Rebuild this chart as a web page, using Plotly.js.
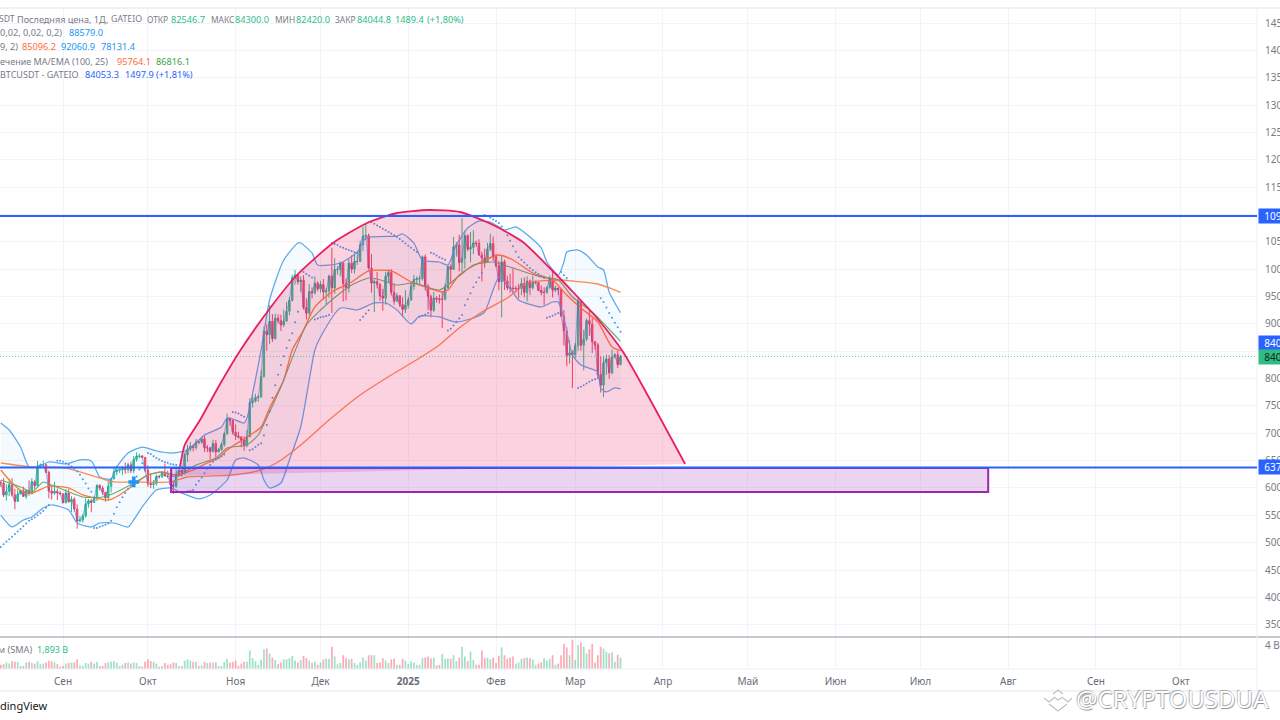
<!DOCTYPE html>
<html><head><meta charset="utf-8">
<script src="https://cdn.plot.ly/plotly-3.0.1.min.js"></script>
<style>html,body{margin:0;padding:0;background:#fff;overflow:hidden;width:1280px;height:720px}#c{width:1340px;height:720px}</style>
</head><body><div id="c"></div>
<script>
// Candles: daily, first bar 2024-08-10 (day -22 from 2024-09-01), last bar 2025-03-17
const closes=[60900,58700,59350,60600,58750,57550,58900,59500,58450,59500,59000,61150,60400,64050,64200,64250,62850,59450,59050,59400,59100,58950,
57300,59100,57450,57950,56150,53950,54150,54850,57050,57650,57350,58100,60500,60000,59200,58200,60300,61650,62950,63200,63350,63550,63350,64250,63150,65200,65800,65850,65600,63300,
60800,60650,60750,62100,62050,62800,62200,62150,60600,60300,62450,63200,62850,66050,67050,67600,67400,68400,68350,69000,67350,67350,66650,68150,66600,67000,67950,69900,72700,72350,70200,
69500,69300,68750,67800,69350,75600,75900,76500,76650,80400,88700,88000,90500,87300,91050,90600,89800,90500,92300,94300,98400,98950,97700,98000,93000,91950,95900,95650,97450,96400,
97200,95850,96000,98750,96600,99900,99900,101150,97400,96600,101100,100000,101400,101400,104450,106050,106150,100200,97450,97750,97250,95100,94700,98700,99400,95800,94150,95150,93550,92650,93400,
94400,96900,98100,98200,98300,102250,96900,95050,92500,94700,94550,94500,94500,96550,100500,99950,104100,104450,101200,102000,106150,103650,103950,104800,104700,102600,102050,101300,103700,104700,102400,
100650,97700,101350,97850,96600,96550,96450,96450,96450,97400,95750,97850,96600,97500,97550,96100,95750,95750,96650,98300,96150,96550,96250,91450,88700,84250,84700,84350,
86000,94250,86100,87200,90600,89950,86750,86150,80700,78800,82900,83600,81050,83950,84350,82546.7,84044.8];
const highs=[61400,61800,60700,61700,61800,59850,59800,59650,60250,59600,61400,61800,61400,64950,64500,65000,64450,63200,60200,61150,59900,59450,
58900,59800,59800,58500,58300,57000,54850,55250,58100,58000,58000,58550,60650,60650,60400,59200,61300,61800,63850,64100,63550,64000,64700,64650,64800,65850,66500,66250,66050,65550,
64150,62400,61450,62450,62400,63000,64450,63200,62550,61300,63400,63500,63300,66450,67900,68400,67900,68950,68650,69400,69500,67850,67450,68800,68750,67300,68350,70250,73600,72950,72650,
71600,70300,69500,69450,70600,76400,76950,77200,76950,81500,89550,89950,93450,91800,91850,91750,91700,92600,94000,94900,99000,99850,98750,98650,98900,94700,97300,96650,98700,97800,
97850,98200,96600,99000,103900,102000,100500,101400,101200,98300,101900,102500,102650,102700,105200,107800,108300,106500,102800,98150,99500,97400,96400,99450,99950,100000,97400,95650,95200,94900,96150,
94900,97750,98950,98700,98800,102500,102700,97250,95350,95800,95050,95350,95900,97350,100700,100850,105900,104950,106300,109350,107100,106350,106800,107100,105250,105450,103200,103750,104800,106450,106000,
102800,101500,102500,101750,98800,99200,100150,96950,97300,98350,98500,98700,98100,98800,97950,97750,97000,96700,96900,98800,99500,96950,96650,96500,92500,89400,87000,85100,
86500,95000,94400,88900,91000,92800,91000,86850,86500,84100,84000,84350,84300,85300,84650,85050,84300];
const lows=[60250,58350,57700,58500,58450,56100,57700,58800,58400,58000,58600,58800,59800,60350,63600,63800,62800,58100,57900,58750,57800,58750,
57200,57200,57450,55600,55650,52550,53750,53650,54600,56400,55550,57300,57600,59500,58700,57500,57650,59200,61600,62350,62750,62400,62600,62700,62700,62700,64800,65450,65450,62900,
60200,59950,59850,60450,61700,61800,62150,61850,60300,58900,60050,62450,62050,62450,64800,66700,66700,67000,68000,68100,66600,66550,65250,66550,65600,66600,66850,67550,69700,71400,69700,
68800,69050,67450,66800,67450,69750,74700,75600,75750,76500,80200,85100,86300,86700,87150,90100,88700,89400,90900,91550,94100,97200,97200,95800,92600,90800,91500,94650,95400,96000,
95700,94400,93600,94700,92000,95500,99000,98700,94100,94300,95700,99300,99200,100800,101300,103300,105350,100000,95700,92150,96500,94200,92400,93500,97600,95200,93500,94000,93050,91300,92000,
92800,94200,96200,97250,97300,97900,96100,92500,91200,92200,93850,93700,89250,94300,96500,97300,99950,102300,99600,99500,100100,103300,101250,102750,104100,102500,97750,100250,101300,103300,101550,
100300,96150,91200,96200,96150,95700,95650,95700,94700,95250,94850,94100,95250,96250,97250,96050,95200,93400,95500,96400,94850,95800,95250,91200,86050,82250,82750,78250,
83700,85100,85100,81500,86850,87800,84700,85300,80000,77450,76600,80650,79950,80800,83650,81950,82420];
const opens=[61000].concat(closes.slice(0,-1));
const volumes=[0.7,0.8,1.1,0.9,1.3,1.2,1.2,0.5,0.5,1.1,1.2,1.0,0.9,1.3,0.8,0.9,1.1,1.4,1.3,1.1,0.8,0.4,
0.5,0.9,1.0,1.1,1.1,1.6,0.6,0.5,1.0,0.9,1.2,0.9,1.2,0.5,0.5,1.0,1.1,1.2,1.3,1.1,0.5,0.7,1.0,1.1,0.9,1.1,1.0,0.5,0.4,1.2,
1.6,1.3,1.2,0.9,0.4,0.5,1.0,0.7,0.8,1.1,1.0,0.5,0.5,1.4,1.6,1.4,1.2,1.2,0.5,0.6,1.2,1.0,1.1,1.1,1.1,0.5,0.5,1.2,1.7,1.1,1.2,
1.4,0.5,0.9,1.2,1.2,3.1,1.8,1.3,0.7,1.6,3.3,3.4,2.6,1.9,1.5,0.8,1.1,1.6,1.6,1.8,2.2,1.4,1.1,1.5,2.2,1.8,1.4,1.0,1.2,0.7,
1.1,1.6,1.7,1.7,3.7,2.1,0.8,1.0,2.3,1.8,1.6,1.7,1.0,0.7,1.1,1.9,1.4,2.3,2.3,2.3,1.0,1.1,1.8,1.4,1.0,1.6,1.7,0.7,0.7,1.7,1.4,
0.8,1.3,1.1,0.7,0.7,1.8,1.9,2.1,1.8,1.9,0.6,0.7,2.5,1.7,1.8,1.7,2.3,1.3,1.9,3.7,2.1,1.3,2.9,1.5,0.7,0.7,3.1,1.8,1.9,1.6,1.9,
1.0,2.2,3.6,2.3,1.7,1.9,2.1,0.9,1.1,1.7,1.8,1.9,1.8,1.6,0.7,0.9,1.1,1.8,1.4,1.7,2.3,0.7,0.9,2.3,4.2,3.6,2.3,4.9,
1.5,4.0,4.4,3.7,2.6,3.3,4.2,1.1,2.3,3.7,3.4,2.9,2.6,2.8,1.2,2.4,1.893];

// Indicators (day offsets from 2024-09-01)
const upperDays=[-22,-19,-15,-12,-9,-5,1,6,10,13,17,19,23,28,33,39,44,50,56,58,60,64,65,70,73,78,83,84,88,90,98,104,107,118,120,124,127,133,136,139,143,147,151,156,160,165,169,171,175,177,178,182,185,189,191,193,197];
const upperVals=[71880,70600,67490,63840,63840,64750,64390,65120,64930,62010,61640,63840,66400,67490,66760,66400,66940,69690,71150,72790,72610,71880,72790,85220,94360,101680,104780,104780,102960,100760,101130,103140,105700,106060,106430,104780,101680,101310,100760,104420,107530,108810,108620,107160,107710,105880,103870,101310,98930,101310,103140,103500,102590,100400,99850,95830,92060.9];
const lowerDays=[-22,-18,-14,-11,-7,-4,2,5,10,13,18,23,25,28,33,38,42,48,52,58,61,64,69,71,73,77,80,84,89,91,98,104,110,114,118,123,126,130,133,139,146,149,154,158,161,169,173,175,177,180,183,189,190,192,195,197];
const lowerVals=[55060,52870,54150,54700,56340,56890,55980,53600,52870,53600,53600,52870,54150,56530,59630,60000,59080,57990,58720,61460,65120,65480,64200,61460,60000,60910,65120,71150,85220,87600,92900,92540,93820,93820,92540,89980,91440,91440,91260,90340,91260,92170,98390,96560,94360,93090,94000,94000,91070,84310,82480,81200,78280,77550,78280,78131.4];
const basisDays=[-22,-18,-14,-11,-6,-4,2,7,16,20,25,30,35,40,46,51,55,58,65,70,73,78,81,85,89,95,102,108,116,123,129,134,136,140,147,154,159,166,173,178,183,189,194,197];
const basisVals=[63290,60910,59270,59080,60180,60360,60000,58720,57800,58720,60550,62370,62920,62370,63290,64570,65480,66940,69320,71150,74620,79740,85220,88880,93090,95830,97650,99670,99670,97650,96560,95830,96190,98930,101130,102590,101680,99300,98020,95280,92900,90340,85770,85096.2];
const ma100Days=[-22,-11,1,13,18,25,38,44,60,70,76,84,94,105,116,126,133,140,148,157,164,176,180,189,197];
const ma100Vals=[64570,63840,63650,61830,61100,61100,61100,62010,62370,63290,64750,67860,72430,77000,80650,83760,86140,89250,92170,94730,97470,98020,97840,97290,95764.1];
const emaDays=[-22,-15,-11,-7,-4,7,14,19,25,30,35,40,47,54,58,65,69,72,77,86,91,98,102,108,111,118,124,133,140,145,152,159,169,175,180,187,197];
const emaVals=[61460,60180,59270,61100,60550,58350,58350,59270,60910,62370,62920,62010,64200,65480,67310,67860,69690,72790,78460,89790,92540,95640,97110,98390,98200,97110,97470,96190,98750,100760,101310,100210,98570,98020,94910,92170,86816.1];
const sarDays=[-22,-21,-20,-19,-18,-17,-16,-15,-14,-13,-12,-11,-10,-9,-8,-7,-6,-5,-2,-1,0,1,2,3,4,5,6,7,8,9,10,
11,12,13,14,15,16,17,18,19,20,21,22,23,24,25,26,27,28,30,31,32,33,34,35,36,37,38,39,40,
42,43,44,45,46,47,48,49,50,51,52,53,54,55,56,57,60,61,62,63,64,
66,67,68,69,70,71,72,73,74,75,76,77,78,79,80,81,82,83,85,86,87,88,89,90,91,92,93,94,
95,96,97,98,99,100,101,102,103,104,105,106,107,108,109,110,111,112,113,114,115,116,117,118,119,120,121,122,123,124,125,
126,127,128,129,130,131,132,133,134,135,136,137,138,139,140,141,142,143,144,145,146,147,148,
149,150,151,152,153,154,155,156,157,158,159,160,161,162,163,164,165,166,167,168,169,170,171,172,173,174,175,176,177,178,
182,183,184,185,186,187,188,189,190,191,192,193,194,195,196,197];
const sarVals=[49200,49700,50200,50650,51100,51600,52050,52500,53000,53500,54000,54300,54600,55000,55400,55800,56400,56900,65000,65000,64800,64500,64300,63950,63550,63000,62400,61600,60800,59900,59300,
52690,52700,52900,53100,53300,53500,54000,55300,56500,57400,58300,59100,59800,60400,60900,62100,63400,64500,66400,66200,65800,65500,65200,64950,64700,64600,64400,64300,64200,
59100,59250,59400,59500,59650,60600,61300,61900,62700,63500,64200,64800,65200,65500,65800,66100,73900,73800,73600,73300,73000,
66900,67100,67500,67900,68200,69600,71500,74000,76500,78800,80700,82500,84100,85600,87000,88300,90300,92200,99500,99100,98800,98500,90800,91000,91200,91300,91450,91600,
104800,104600,104400,104100,103900,103700,103500,103300,103100,102950,90700,91300,91900,92500,108600,108300,108000,107700,107400,107100,106800,106500,106200,105900,105500,105100,104700,104300,103900,103500,103150,
91300,91500,91700,92000,103000,102800,102500,102200,101950,101700,88800,89100,89700,90400,91000,91600,93400,94500,95600,96700,97600,98500,99300,
109900,109700,109400,109100,108800,108450,107800,107000,106200,105200,104200,103200,102200,101700,101200,100700,100200,99800,99450,99100,98750,98400,91100,91300,91500,91750,92000,99480,98900,98400,
78300,78500,78800,79100,79400,79700,79900,80100,94700,94000,93000,92000,91100,90200,89400,88579];
const plusDay=[25], plusVal=[61100];

// Drawings
const arcDates=['2024-10-09 12:00','2024-10-12 08:00','2024-10-14','2024-10-19 10:00','2024-10-26 12:00','2024-11-02 12:00','2024-11-14','2024-11-22 16:00','2024-12-05 10:00','2024-12-17 10:00','2024-12-28','2025-01-08','2025-01-19 08:00','2025-01-31','2025-02-10 12:00','2025-02-20','2025-02-28 05:00','2025-03-08 16:00','2025-03-17 22:00','2025-03-28 12:00','2025-04-08 20:00'];
const arcVals=[62192,63840,67858,72428,79009,85042,93450,98934,104784,108440,110268,110816,110451,108074,104967,100214,95827,91074,84859,75170,64385];
const hLevels=[109720,63740];
const zoneDates=['2024-10-09 05:00','2025-07-24 22:00'];
const zoneVals=[59267,63654];
const lastPrice=84044.8;

// Axis labels
const priceTicks=[35000,40000,45000,50000,55000,60000,65000,70000,75000,80000,85000,90000,95000,100000,105000,110000,115000,120000,125000,130000,135000,140000,145000];
const hiddenPriceLabels=[85000,110000];
const monthTicks=['2024-09-01','2024-10-01','2024-11-01','2024-12-01','2025-01-01','2025-02-01','2025-03-01','2025-04-01','2025-05-01','2025-06-01','2025-07-01','2025-08-01','2025-09-01','2025-10-01'];
const monthLabels=['Сен','Окт','Ноя','Дек','<b>2025</b>','Фев','Мар','Апр','Май','Июн','Июл','Авг','Сен','Окт'];

const D0=Date.UTC(2024,8,1), DAY=86400000;
const toDate=d=>new Date(D0+d*DAY).toISOString().slice(0,19);
const candleDates=closes.map((_,i)=>toDate(i-22));
const W=1340,PW=1257,H=720;
const px=x=>x/PW, py=y=>1-y/H;
const FONT='"Noto Sans", Roboto, sans-serif';
const GRAY='#787b86',GRN='#2ebd85',RED='#f6465d',ORG='#ff6d3a',SKY='#2196f3',BLU='#2962ff';

const line=(days,vals,color,w)=>({type:'scatter',mode:'lines',x:days.map(toDate),y:vals,line:{color,width:w||1,shape:'spline',smoothing:0.6},hoverinfo:'skip',xaxis:'x',yaxis:'y'});
const traces=[
 {type:'candlestick',x:candleDates,open:opens,high:highs,low:lows,close:closes,whiskerwidth:0,
  increasing:{line:{color:GRN,width:1},fillcolor:GRN},decreasing:{line:{color:RED,width:1},fillcolor:RED},xaxis:'x',yaxis:'y',hoverinfo:'skip'},
 {type:'bar',x:candleDates,y:volumes,width:0.62*DAY,marker:{color:closes.map((c,i)=>c>=opens[i]?'rgba(46,189,133,.45)':'rgba(246,70,93,.45)')},xaxis:'x',yaxis:'y2',hoverinfo:'skip'},
 line(lowerDays,lowerVals,'#5aa9ec',1.25),
 Object.assign(line(upperDays,upperVals,'#5aa9ec',1.25),{fill:'tonexty',fillcolor:'rgba(33,150,243,.05)'}),
 line(ma100Days,ma100Vals,'#ff8a50',1.3),
 line(basisDays,basisVals,'#ff7a30',1.3),
 line(emaDays,emaVals,'#6fa86f',1.1),
 {type:'scatter',mode:'lines',x:candleDates,y:closes,line:{color:'rgba(41,98,255,.45)',width:1},xaxis:'x',yaxis:'y',hoverinfo:'skip'},
 {type:'scatter',mode:'markers',x:sarDays.map(toDate),y:sarVals,marker:{color:'#4a98ec',size:2},xaxis:'x',yaxis:'y',hoverinfo:'skip'},
 {type:'scatter',mode:'markers',x:plusDay.map(toDate),y:plusVal,marker:{color:SKY,symbol:'cross',size:9},xaxis:'x',yaxis:'y',hoverinfo:'skip'},
 {type:'scatter',mode:'lines',x:arcDates,y:arcVals,fill:'toself',fillcolor:'rgba(233,30,99,.2)',line:{width:0,shape:'spline',smoothing:0.6},xaxis:'x',yaxis:'y',hoverinfo:'skip'},
 {type:'scatter',mode:'lines',x:arcDates.slice(1),y:arcVals.slice(1),line:{color:'#e91e63',width:1.8,shape:'spline',smoothing:0.6},xaxis:'x',yaxis:'y',hoverinfo:'skip'}
];

const pathOf=pts=>pts.map((p,i)=>(i?'L':'M')+px(p[0]).toFixed(5)+','+py(p[1]).toFixed(5)).join(' ');
const chevrons=[[[1053,694],[1058,690],[1063,694]],[[1044,698],[1049,702],[1054,698]],[[1054,697],[1058,700],[1063,697]],[[1063,698],[1068,702],[1072,698]],[[1049,704],[1058,711],[1067,704]]];
const pLine=(x0,y0,x1,y1,color,w)=>({type:'line',xref:'paper',yref:'paper',x0:px(x0),x1:px(x1),y0:py(y0),y1:py(y1),line:{color,width:w||1}});
const shapes=[
 pLine(0,8,W,8,'#f0f1f4',2),
 pLine(0,637,W,637,'#b4b6bc',1.5),
 pLine(0,669,PW,669,'#eef0f4',1),
 pLine(0,691,W,691,'#eceef2',1.5),
 pLine(PW,9,PW,691,'#eef0f6',1),
 {type:'rect',xref:'x',yref:'y',x0:zoneDates[0],x1:zoneDates[1],y0:zoneVals[0],y1:zoneVals[1],fillcolor:'rgba(156,39,176,.2)',line:{color:'#9c27b0',width:2}},
 ...hLevels.map(v=>({type:'line',xref:'paper',yref:'y',x0:0,x1:1,y0:v,y1:v,line:{color:BLU,width:2}})),
 {type:'line',xref:'paper',yref:'y',x0:0,x1:1,y0:lastPrice,y1:lastPrice,line:{color:'rgba(46,189,133,.75)',width:1,dash:'1px,2px'}},
 ...chevrons.map(c=>({type:'path',xref:'paper',yref:'paper',path:pathOf(c),line:{color:'#bfc1c6',width:1.2}}))
];

// Header runs: [text, colour, left, row centre, size]
const header=[
 ['SDT',GRAY,-2,19,8.6],['Последняя цена, 1Д,',GRAY,15.5,19,9.1],['GATEIO',GRAY,110,19,8.8],['ОТКР',GRAY,146,19,8.4],['82546.7',GRN,170,19],['МАКС',GRAY,210,19,8.4],['84300.0',GRN,234,19],['МИН',GRAY,274,19,8.4],['82420.0',GRN,295,19],['ЗАКР',GRAY,334,19,8.4],['84044.8',GRN,356,19],['1489.4',GRN,394,19],['(+1,80%)',GRN,426,19],
 ['0,02, 0,02, 0,2)',GRAY,-1,33],['88579.0',SKY,68,33],
 ['9, 2)',GRAY,-1,47],['85096.2',ORG,21,47],['92060.9',SKY,60,47],['78131.4',SKY,100,47],
 ['ечение MA/EMA (100, 25)',GRAY,-1,61,9],['95764.1',ORG,116,61],['86816.1','#43a047',155,61],
 ['BTCUSDT - GATEIO',GRAY,-1,75,9],['84053.3',BLU,84,75],['1497.9',BLU,124,75],['(+1,81%)',BLU,155,75],
 ['м (SMA)',GRAY,-3,649,9.2],['1,893 B',GRN,36,649,9]
];
const note=(t,c,x,y,size,extra)=>Object.assign({xref:'paper',yref:'paper',x:px(x),y:py(y),xanchor:'left',yanchor:'middle',text:t,showarrow:false,font:{family:FONT,size:size||10,color:c},borderpad:0},extra||{});
const tag=(t,y,bg,fg)=>note(t,fg,PW+1,y,10,{bgcolor:bg,width:82,height:14,align:'left',text:'&nbsp;&nbsp;'+t});
const annotations=[
 ...header.map(h=>note(h[0],h[1],h[2],h[3],h[4]||9.2)),
 note('dingView','#131722',-1,705,11),
 note('@CRYPTOUSDUA','#ffffff',1075,698,24,{font:{family:FONT,size:24,color:'#ffffff',shadow:'0.7px 0.7px 0.8px #8f9196, -0.7px -0.7px 0.8px #a5a7ac'}}),
 tag('109720.0',216,BLU,'#ffffff'),
 tag('63740.0',467,BLU,'#ffffff'),
 tag('84053.3',343,BLU,'#ffffff'),
 tag('84044.8',357,GRN,'#10261d')
];

const layout={
 width:W,height:H,margin:{l:0,r:W-PW,t:0,b:0,pad:0},paper_bgcolor:'#fff',plot_bgcolor:'#fff',showlegend:false,bargap:0.3,
 font:{family:FONT,size:10,color:GRAY},
 xaxis:{type:'date',domain:[0,1],range:[toDate(-22.26),toDate(421.9)],anchor:'y2',rangeslider:{visible:false},tickmode:'array',tickvals:monthTicks,ticktext:monthLabels,ticks:'',ticklen:0,ticklabelstandoff:5,showline:false,zeroline:false,showgrid:true,gridcolor:'#f3f4f9',gridwidth:1,tickfont:{family:FONT,size:10,color:'#6a6d78'}},
 yaxis:{domain:[py(637),py(9)],range:[145000-(637-23)*182.8,145000-(9-23)*182.8],side:'right',anchor:'x',tickmode:'array',tickvals:priceTicks,ticktext:priceTicks.map(v=>hiddenPriceLabels.includes(v)?'':v.toFixed(1)),ticks:'',ticklabelstandoff:7,showline:false,zeroline:false,gridcolor:'#f3f4f9',gridwidth:1,tickfont:{family:FONT,size:10,color:GRAY}},
 yaxis2:{domain:[py(669),py(638)],range:[0,31/6],side:'right',anchor:'x',tickmode:'array',tickvals:[4],ticktext:['4 B'],ticks:'',ticklabelstandoff:7,showline:false,zeroline:false,showgrid:false,tickfont:{family:FONT,size:10,color:GRAY}},
 shapes,annotations
};
Plotly.newPlot('c',traces,layout,{staticPlot:true,displayModeBar:false});
</script></body></html>
